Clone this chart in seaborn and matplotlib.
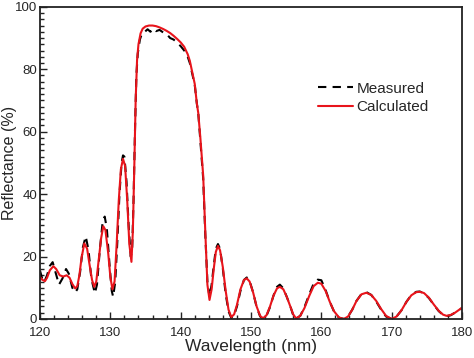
import numpy as np
import pandas as pd
import seaborn as sns
import matplotlib.pyplot as plt
from matplotlib.ticker import MultipleLocator

# Calculated reflectance (red)
calc_wl = [120.0, 120.3, 120.7, 121.0, 121.4, 121.9, 122.3, 122.8, 123.3, 123.8,
           124.2, 124.6, 125.0, 125.3, 125.6, 125.9, 126.3, 126.7, 127.0, 127.4,
           127.7, 128.0, 128.3, 128.7, 129.0, 129.3, 129.7, 130.0, 130.3, 130.6,
           130.9, 131.2, 131.5, 131.8, 132.1, 132.4, 132.7, 133.0, 133.2, 133.4,
           133.6, 133.8, 134.0, 134.3, 134.6, 135.0, 135.5, 136.0, 136.5, 137.0,
           137.5, 138.0, 138.5, 139.0, 139.5, 140.0, 140.5, 141.0, 141.3, 141.6,
           142.0, 142.3, 142.5, 142.8, 143.2, 143.5, 143.8, 144.1, 144.4, 144.7,
           145.0, 145.3, 145.6, 146.0, 146.4, 146.8, 147.2, 147.6, 148.0, 148.5,
           149.0, 149.4, 149.8, 150.3, 150.8, 151.3, 151.7, 152.2, 152.7, 153.2,
           153.7, 154.1, 154.6, 155.1, 155.6, 156.0, 156.4, 157.0, 157.6, 158.3,
           158.9, 159.5, 160.0, 160.6, 161.2, 161.8, 162.5, 163.2, 163.8, 164.4,
           165.0, 165.7, 166.4, 167.1, 167.8, 168.5, 169.2, 170.0, 170.7, 171.4,
           172.1, 172.8, 173.5, 174.0, 174.6, 175.3, 176.0, 176.7, 177.3, 177.8,
           178.4, 179.0, 179.5, 180.0]
calc_r = [13.5, 12.6, 12.1, 13.2, 15.6, 16.9, 16.0, 14.0, 13.6, 14.0,
          13.2, 11.2, 9.8, 10.5, 14.0, 19.5, 24.2, 22.5, 18.0, 12.5,
          10.3, 12.0, 18.0, 26.0, 29.7, 28.5, 21.0, 13.5, 9.5, 12.0,
          24.0, 38.0, 48.0, 51.3, 49.0, 38.0, 24.0, 18.3, 28.0, 48.0,
          70.0, 83.0, 88.0, 91.5, 93.0, 93.7, 94.0, 94.0, 93.8, 93.4,
          92.9, 92.3, 91.6, 90.7, 89.7, 88.6, 87.2, 84.8, 82.7, 79.5,
          75.3, 69.0, 66.0, 58.0, 46.0, 28.0, 11.0, 6.1, 9.5, 16.0,
          21.5, 23.4, 22.0, 16.5, 9.0, 3.0, 0.6, 1.5, 4.5, 9.5,
          12.5, 13.0, 12.0, 8.5, 4.0, 1.0, 0.2, 1.2, 4.0, 7.5,
          9.8, 10.3, 9.5, 7.0, 4.0, 1.5, 0.2, 1.0, 3.5, 7.5,
          10.5, 11.6, 11.3, 9.0, 5.5, 2.5, 0.5, 0.0, 0.8, 3.0,
          5.8, 7.9, 8.4, 7.7, 5.8, 3.2, 1.0, 0.0, 0.8, 2.8,
          5.5, 7.6, 8.6, 8.7, 8.3, 6.8, 4.6, 2.6, 1.4, 1.0,
          1.3, 2.0, 2.8, 3.6]

# Measured reflectance (black dashed)
meas_wl = [120.0, 120.3, 120.6, 121.0, 121.4, 121.8, 122.2, 122.7, 123.2, 123.7,
           124.1, 124.6, 125.0, 125.3, 125.7, 126.1, 126.5, 126.9, 127.3, 127.8,
           128.1, 128.5, 128.9, 129.2, 129.5, 129.9, 130.2, 130.4, 130.7, 131.0,
           131.3, 131.6, 131.8, 132.0, 132.3, 132.6, 132.9, 133.1, 133.3, 133.5,
           133.7, 133.9, 134.2, 134.5, 134.9, 135.3, 135.7, 136.1, 136.5, 137.0,
           137.5, 138.0, 138.5, 139.0, 139.5, 140.0, 140.5, 141.0, 141.3, 141.6,
           142.0, 142.3, 142.5, 142.8, 143.2, 143.5, 143.8, 144.1, 144.4, 144.7,
           145.0, 145.3, 145.6, 146.0, 146.4, 146.8, 147.2, 147.6, 148.0, 148.5,
           149.0, 149.4, 149.8, 150.3, 150.8, 151.3, 151.7, 152.2, 152.7, 153.2,
           153.7, 154.1, 154.6, 155.1, 155.6, 156.0, 156.4, 157.0, 157.6, 158.3,
           158.9, 159.5, 160.0, 160.6, 161.2, 161.8, 162.5, 163.2, 163.8, 164.4,
           165.0, 165.7, 166.4, 167.1, 167.8, 168.5, 169.2, 170.0, 170.7, 171.4,
           172.1, 172.8, 173.5, 174.0, 174.6, 175.3, 176.0, 176.7, 177.3, 177.8,
           178.4, 179.0, 179.5, 180.0]
meas_r = [15.5, 13.0, 11.8, 14.0, 17.0, 18.2, 15.0, 11.0, 13.0, 16.0,
          14.5, 10.0, 8.5, 9.5, 15.0, 23.0, 26.5, 22.0, 13.0, 8.2,
          11.0, 22.0, 31.0, 32.8, 29.0, 17.0, 9.0, 7.1, 12.0, 25.0,
          40.0, 50.0, 52.4, 52.0, 44.0, 30.0, 20.0, 22.0, 38.0, 60.0,
          78.0, 85.0, 89.5, 91.5, 92.0, 92.8, 92.0, 93.0, 92.2, 92.6,
          91.8, 91.3, 90.0, 89.5, 88.5, 87.4, 86.0, 84.0, 82.0, 79.0,
          75.0, 69.0, 66.0, 57.0, 45.0, 27.0, 12.0, 7.0, 11.0, 17.0,
          22.5, 24.0, 22.5, 16.0, 8.0, 2.5, 0.3, 1.2, 4.0, 9.0,
          12.5, 13.3, 12.2, 8.5, 3.8, 0.8, 0.1, 1.0, 3.8, 7.5,
          10.3, 11.0, 9.8, 7.0, 4.0, 1.2, 0.1, 1.0, 3.8, 8.0,
          11.3, 12.6, 12.4, 9.3, 5.5, 2.4, 0.4, 0.0, 0.8, 3.0,
          5.8, 8.0, 8.6, 7.7, 5.6, 3.0, 0.8, 0.0, 0.8, 2.8,
          5.5, 7.7, 8.7, 8.8, 8.2, 6.7, 4.5, 2.5, 1.3, 0.9,
          1.2, 2.0, 2.7, 3.5]

meas = pd.DataFrame({'wl': meas_wl, 'r': meas_r})
calc = pd.DataFrame({'wl': calc_wl, 'r': calc_r})

sns.set_style('ticks')
plt.rcParams['font.family'] = ['Liberation Sans', 'DejaVu Sans']

fig = plt.figure(figsize=(4.74, 3.58), dpi=100)
ax = fig.add_axes([0.0844, 0.109, 0.8903, 0.872])

sns.lineplot(data=meas, x='wl', y='r', ax=ax, color='black', lw=1.5,
             linestyle=(0, (4, 3)), label='Measured', sort=False)
sns.lineplot(data=calc, x='wl', y='r', ax=ax, color='#e8141b', lw=1.5,
             label='Calculated', sort=False)

ax.set_xlim(120, 180)
ax.set_ylim(0, 100)
ax.xaxis.set_major_locator(MultipleLocator(10))
ax.xaxis.set_minor_locator(MultipleLocator(2))
ax.yaxis.set_major_locator(MultipleLocator(20))
ax.yaxis.set_minor_locator(MultipleLocator(2))
ax.tick_params(which='both', direction='in', top=False, right=False,
               labelsize=9.5, width=1, color='#222222')
ax.tick_params(axis='y', pad=2)
ax.tick_params(axis='x', pad=6)
ax.tick_params(which='major', length=5)
ax.tick_params(which='minor', length=3)
for s in ax.spines.values():
    s.set_linewidth(1.3)
    s.set_color('#222222')

ax.set_xlabel('Wavelength (nm)', fontsize=12.5, labelpad=0)
ax.set_ylabel('Reflectance (%)', fontsize=11.5)
ax.yaxis.set_label_coords(-0.055, 0.5)

ax.legend(loc='upper left', bbox_to_anchor=(0.645, 0.78), frameon=False,
          fontsize=11, handlelength=2.3, handletextpad=0.2, labelspacing=0.3,
          borderaxespad=0)

fig.savefig('out.png', dpi=100)
